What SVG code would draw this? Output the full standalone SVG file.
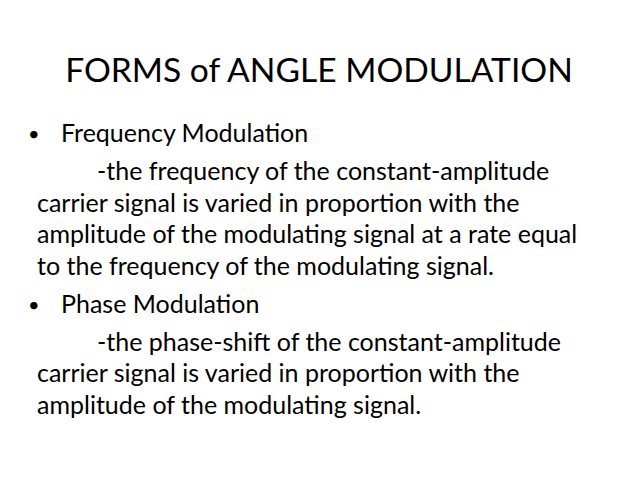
<svg xmlns="http://www.w3.org/2000/svg" width="638" height="478" viewBox="0 0 638 478">
<style>
text{font-family:Lato,"Open Sans",sans-serif;fill:#000}
.t{font-size:33.6px}
.b{font-size:25px}
.d{font-size:20px}
</style>
<rect width="638" height="478" fill="#fff"/>
<text class="t" x="319" y="82" text-anchor="middle">FORMS of ANGLE MODULATION</text>
<g class="b">
<text class="d" x="28" y="141">•</text>
<text x="61" y="142">Frequency Modulation</text>
<text x="97" y="180">-the frequency of the constant-amplitude</text>
<text x="37" y="212">carrier signal is varied in proportion with the</text>
<text x="37" y="243">amplitude of the modulating signal at a rate equal</text>
<text x="37" y="275">to the frequency of the modulating signal.</text>
<text class="d" x="28" y="312">•</text>
<text x="61" y="313">Phase Modulation</text>
<text x="97" y="351">-the phase-shift of the constant-amplitude</text>
<text x="37" y="382">carrier signal is varied in proportion with the</text>
<text x="37" y="414">amplitude of the modulating signal.</text>
</g>
</svg>
